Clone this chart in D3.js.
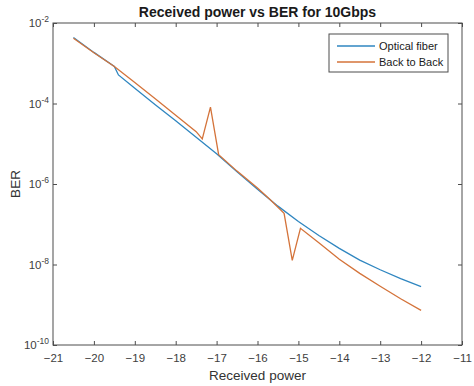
<!DOCTYPE html>
<html><head><meta charset="utf-8">
<script src="https://cdn.jsdelivr.net/npm/d3@7"></script>
<style>body{margin:0;background:#fff}svg{display:block}text{font-family:"Liberation Sans",Arial,sans-serif}</style>
</head><body><svg id="c" width="474" height="386"></svg>
<script>
const xTicks = [-21,-20,-19,-18,-17,-16,-15,-14,-13,-12,-11];
const yTicks = [1e-10,1e-8,1e-6,1e-4,1e-2];
const yExp = ["-10","-8","-6","-4","-2"];
const seriesNames = ["Optical fiber","Back to Back"];
const fiberX = [-20.5,-20.0,-19.5,-19.4,-19.0,-18.5,-18.0,-17.5,-17.0,-16.5,-16.0,-15.5,-15.0,-14.5,-14.0,-13.5,-13.0,-12.5,-12.0];
const fiberBER = [4.37e-3,1.86e-3,8.32e-4,5.13e-4,2.40e-4,9.33e-5,3.72e-5,1.45e-5,5.62e-6,2.00e-6,7.41e-7,2.82e-7,1.17e-7,5.25e-8,2.51e-8,1.29e-8,7.41e-9,4.47e-9,2.82e-9];
const b2bX = [-20.5,-20.0,-19.5,-19.0,-18.5,-18.0,-17.5,-17.35,-17.15,-16.95,-16.5,-16.0,-15.7,-15.35,-15.15,-14.95,-14.5,-14.0,-13.5,-13.0,-12.5,-12.0];
const b2bBER = [4.17e-3,1.82e-3,8.32e-4,3.31e-4,1.32e-4,5.13e-5,2.00e-5,1.32e-5,8.13e-5,5.37e-6,2.09e-6,7.94e-7,4.17e-7,1.86e-7,1.26e-8,7.94e-8,3.47e-8,1.35e-8,6.03e-9,2.88e-9,1.41e-9,7.24e-10];
const colors = ["#2f86c0","#d4733a"];

const L=53,R=462,T=23,B=345;
const svg=d3.select("#c");
const x=d3.scaleLinear().domain([-21,-11]).range([L,R]);
const y=d3.scaleLog().domain([1e-10,1e-2]).range([B,T]);
const axisCol="#4d4d4d", labCol="#404040";

const line=d3.line().x(d=>x(d[0])).y(d=>y(d[1]));
[[fiberX,fiberBER],[b2bX,b2bBER]].forEach((s,i)=>{
  svg.append("path").datum(s[0].map((v,j)=>[v,s[1][j]]))
    .attr("d",line).attr("fill","none").attr("stroke",colors[i]).attr("stroke-width",1.3);
});

// frame
svg.append("rect").attr("x",L).attr("y",T).attr("width",R-L).attr("height",B-T)
  .attr("fill","none").attr("stroke",axisCol).attr("stroke-width",1);

// axes
const xb=svg.append("g").attr("transform",`translate(0,${B})`)
  .call(d3.axisBottom(x).tickValues(xTicks).tickSizeInner(-4).tickSizeOuter(0).tickPadding(9).tickFormat(d3.format("d")));
const xt=svg.append("g").attr("transform",`translate(0,${T})`)
  .call(d3.axisTop(x).tickValues(xTicks).tickSizeInner(-4).tickSizeOuter(0).tickFormat(""));
const yl=svg.append("g").attr("transform",`translate(${L},0)`)
  .call(d3.axisLeft(y).tickValues(yTicks).tickSizeInner(-4).tickSizeOuter(0).tickPadding(7).tickFormat(""));
const yr=svg.append("g").attr("transform",`translate(${R},0)`)
  .call(d3.axisRight(y).tickValues(yTicks).tickSizeInner(-4).tickSizeOuter(0).tickFormat(""));
[xb,xt,yl,yr].forEach(g=>{g.select(".domain").remove();g.selectAll("line").attr("stroke",axisCol);});
xb.selectAll("text").attr("fill",labCol).attr("font-size",11.5).attr("font-family","Liberation Sans, Arial, sans-serif");

yTicks.forEach((v,i)=>{
  const t=svg.append("text").attr("x",L-4).attr("y",y(v)+4).attr("text-anchor","end")
    .attr("fill",labCol).attr("font-size",11.5);
  t.append("tspan").text("10");
  t.append("tspan").attr("dy",-5).attr("font-size",8.5).text(yExp[i]);
});

// labels
svg.append("text").attr("x",(L+R)/2).attr("y",17).attr("text-anchor","middle")
  .attr("font-weight","bold").attr("font-size",14).attr("fill","#1a1a1a").text("Received power vs BER for 10Gbps");
svg.append("text").attr("x",(L+R)/2).attr("y",380).attr("text-anchor","middle")
  .attr("font-size",13.5).attr("fill","#333").text("Received power");
svg.append("text").attr("transform",`translate(20,${(T+B)/2}) rotate(-90)`).attr("text-anchor","middle")
  .attr("font-size",13.5).attr("fill","#333").text("BER");

// legend
const lg=svg.append("g");
lg.append("rect").attr("x",329).attr("y",34).attr("width",119).attr("height",38)
  .attr("fill","#fff").attr("stroke",axisCol).attr("stroke-width",1);
seriesNames.forEach((n,i)=>{
  const yy=46+i*16;
  lg.append("line").attr("x1",337).attr("x2",375).attr("y1",yy).attr("y2",yy).attr("stroke",colors[i]).attr("stroke-width",1.3);
  lg.append("text").attr("x",379).attr("y",yy+4).attr("font-size",11).attr("fill","#1a1a1a").text(n);
});
</script></body></html>
